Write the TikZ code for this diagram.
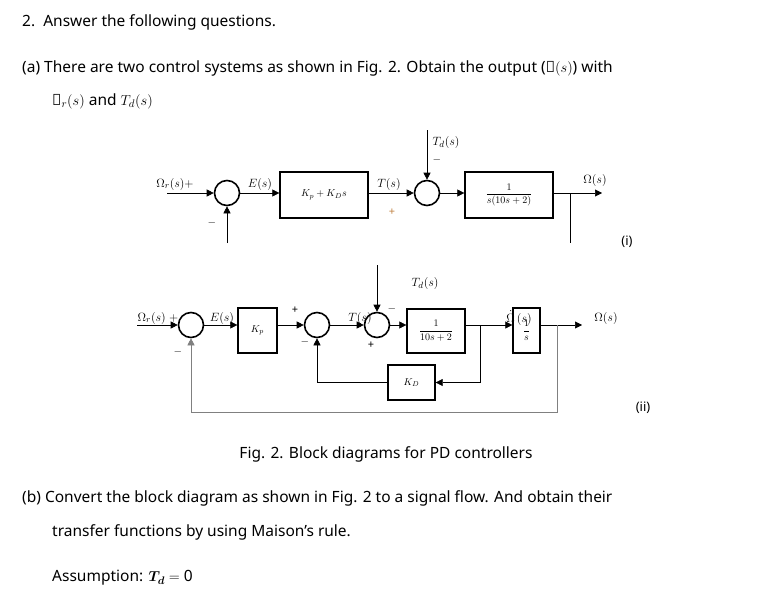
\documentclass[tikz,border=0pt]{standalone}
\usepackage{amsmath,amssymb}
\usepackage{fontspec}
\setmainfont{Noto Sans}
\usetikzlibrary{arrows.meta}
\begin{document}
\begin{tikzpicture}[x=1pt,y=-1pt,
  blk/.style={draw,line width=1.3pt,minimum width=0pt,inner sep=0pt},
  sumc/.style={draw,line width=1.6pt,circle,minimum size=25pt,inner sep=0pt},
  sig/.style={line width=0.6pt,-{Triangle[length=7pt,width=7pt]}},
  ln/.style={line width=0.6pt},
  lab/.style={font=\fontsize{13}{15}\selectfont,inner sep=0pt},
  txt/.style={font=\fontsize{15.5}{19}\selectfont,anchor=west,inner sep=0pt},
  sg/.style={font=\fontsize{11}{13}\selectfont,inner sep=0pt}]
\useasboundingbox (0,0) rectangle (782,610);
\node[txt] (t1) at (22,22) {2.\ \ Answer the following questions.};
\node[txt] (t2) at (22,68) {(a) There are two control systems as shown in Fig. 2. Obtain the output ($\mathit{\Omega}(s)$) with};
\node[txt] (t3) at (52,101) {$\mathit{\Omega}_r(s)$ and $T_d(s)$};
% ---- (i)
\coordinate (i0) at (167,193);
\node[sumc] (s1) at (227,193) {};
\node[blk,minimum width=88pt,minimum height=46pt] (b1) at (324,195) {$K_p+K_Ds$};
\node[sumc] (s2) at (427,193) {};
\node[blk,minimum width=88pt,minimum height=46pt] (b2) at (509,195) {$\dfrac{1}{s(10s+2)}$};
\coordinate (o1) at (602,193);
\coordinate (br1) at (570,193);
\coordinate (br1d) at (570,243);
\coordinate (f1) at (227,243);
\coordinate (td1) at (427,130);
\draw[sig] (i0) -- (s1);
\draw[sig] (s1) -- (s1 -| b1.west);
\draw[sig] (b1.east |- s2) -- (s2);
\draw[sig] (s2) -- (s2 -| b2.west);
\draw[sig] (b2.east |- o1) -- (o1);
\draw[ln] (br1) -- (br1d);
\draw[sig] (f1) -- (s1);
\draw[sig] (td1) -- (s2);
\node[lab] (l1) at (175,184) {$\Omega_r(s)+$};
\node[lab] (l2) at (260,184) {$E(s)$};
\node[lab] (l3) at (389,184) {$T(s)$};
\node[sg,text=brown] (l4) at (392,212) {+};
\node[lab] (l5) at (446,142) {$T_d(s)$};
\node[sg] (l6) at (437,160) {$-$};
\node[lab] (l7) at (595,180) {$\Omega(s)$};
\node[sg] (l8) at (212,223) {$-$};
\node[font=\fontsize{13}{15}\selectfont] (l9) at (627,242) {(i)};
% ---- (ii)
\coordinate (i2) at (137,325);
\node[sumc] (a1) at (191,325) {};
\node[blk,minimum width=39pt,minimum height=45pt] (k1) at (257.5,330.5) {$K_p$};
\node[sumc] (a2) at (317,325) {};
\node[sumc] (a3) at (377,325) {};
\node[blk,minimum width=58pt,minimum height=44pt] (k2) at (436,331) {$\dfrac{1}{10s+2}$};
\node[blk,minimum width=27pt,minimum height=45pt] (k3) at (526.5,330.5) {$\dfrac{1}{s}$};
\node[blk,minimum width=47pt,minimum height=35pt] (k4) at (411.5,382.5) {$K_D$};
\coordinate (o2) at (582,325);
\coordinate (bA) at (480,325);
\coordinate (bB) at (557,325);
\coordinate (td2) at (377,265);
\draw[sig] (i2) -- (a1);
\draw[sig] (a1) -- (a1 -| k1.west);
\draw[sig] (k1.east |- a2) -- (a2);
\draw[sig] (a2) -- (a3);
\draw[sig] (a3) -- (a3 -| k2.west);
\draw[sig] (k2.east |- bA) -- (bA -| k3.west);
\draw[sig] (k3.east |- o2) -- (o2);
\draw[sig] (td2) -- (a3);
\draw[sig] (bA) |- (k4.east);
\draw[sig] (k4.west) -| (a2);
\draw[sig,draw=gray] (bB) |- (191,412) -- (a1);
\node[lab] (m1) at (158,318) {$\Omega_r(s)\ +$};
\node[lab] (m2) at (222,318) {$E(s)$};
\node[sg] (m3) at (295,310) {+};
\node[lab] (m4) at (360,318) {$T(s)$};
\node[sg] (m5) at (371,345) {+};
\node[lab] (m6) at (425,283) {$T_d(s)$};
\node[sg] (m7) at (392,309) {$-$};
\node[lab] (m8) at (519,318) {$\dot\Omega\,(s)$};
\node[lab] (m9) at (606,318) {$\Omega(s)$};
\node[sg] (m10) at (305,342) {$-$};
\node[sg] (m11) at (178,352) {$-$};
\node[font=\fontsize{13}{15}\selectfont] (m12) at (643,408) {(ii)};
% ---- captions
\node[font=\fontsize{15.5}{19}\selectfont,inner sep=0pt] (cap) at (386,454) {Fig. 2. Block diagrams for PD controllers};
\node[txt] (b1t) at (22,498) {(b) Convert the block diagram as shown in Fig. 2 to a signal flow. And obtain their};
\node[txt] (b2t) at (52,532) {transfer functions by using Maison’s rule.};
\node[txt] (b3t) at (52,578) {Assumption: $\boldsymbol{T_d}=\mathbf{0}$};
\end{tikzpicture}
\end{document}
